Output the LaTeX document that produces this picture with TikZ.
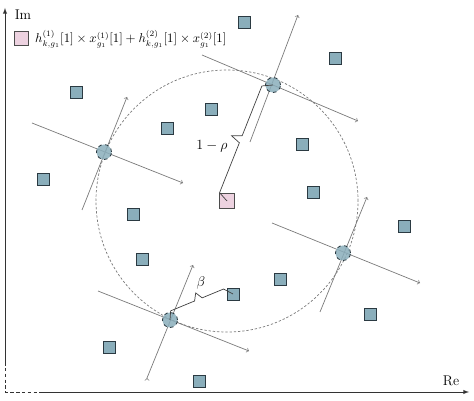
\documentclass[tikz,border=0pt]{standalone}
\usepackage{tikz}
\usetikzlibrary{arrows,calc}

\definecolor{usrblue}{HTML}{8AAEBB}
\definecolor{usrline}{HTML}{2B3A42}
\definecolor{ctrpink}{HTML}{EDD2E0}
\definecolor{beamgray}{HTML}{7A7A7A}

\begin{document}
\begin{tikzpicture}[x=0.03cm,y=-0.03cm,>=to,
  user/.style={rectangle,draw=usrline,fill=usrblue,line width=0.8pt,minimum size=0.36cm,inner sep=0pt},
  ctr/.style={rectangle,draw=black!70,fill=ctrpink,line width=0.7pt,minimum size=0.45cm,inner sep=0pt},
  relay/.style={circle,draw=usrline,dashed,fill=usrblue,fill opacity=0.85,line width=0.7pt,minimum size=0.45cm,inner sep=0pt},
  beam/.style={->,draw=beamgray,line width=0.6pt},
  gap/.style={draw=black!75,line width=0.6pt,line join=miter},
  lbl/.style={font=\fontsize{12}{14}\selectfont}]
\useasboundingbox (0,0) rectangle (474,401);

% axes
\coordinate (o)  at (5,392);
\coordinate (oy) at (5,362);
\coordinate (ox) at (40,392);
\coordinate (imtip) at (5,8);
\coordinate (retip) at (469,392);
\draw[densely dashed,black!80,line width=0.7pt] (oy) -- (o) -- (ox);
\draw[-latex,black!80,line width=0.7pt] (oy) -- (imtip);
\draw[-latex,black!80,line width=0.7pt] (ox) -- (retip);
\node[lbl] (im) at (23,15) {Im};
\node[lbl] (re) at (451,381) {Re};

% legend
\node[ctr,minimum size=0.42cm] (key) at (21,38) {};
\node[lbl,anchor=west,font=\fontsize{10.5}{13}\selectfont] (keytxt) at (31,39)
  {$h^{(1)}_{k,g_1}[1]\times x^{(1)}_{g_1}[1]+h^{(2)}_{k,g_1}[1]\times x^{(2)}_{g_1}[1]$};

% beam axes of the relays
\coordinate (a1) at (202,55);  \coordinate (b1) at (358,121);
\coordinate (c1) at (250,142); \coordinate (d1) at (298,15);
\coordinate (a2) at (32,123);  \coordinate (b2) at (183,183);
\coordinate (c2) at (82,210);  \coordinate (d2) at (127,97);
\coordinate (a3) at (272,223); \coordinate (b3) at (420,283);
\coordinate (c3) at (320,312); \coordinate (d3) at (367,197);
\coordinate (a4) at (98,291);  \coordinate (b4) at (249,351);
\coordinate (c4) at (147,378); \coordinate (d4) at (193,265);

\path[beam] (a1) edge (b1) (c1) edge (d1)
            (a2) edge (b2) (c2) edge (d2)
            (a3) edge (b3) (c3) edge (d3)
            (a4) edge (b4) (c4) edge (d4);

% coverage circle
\coordinate (mid) at (227,201);
\draw[beamgray,line width=0.6pt,dash pattern=on 2pt off 1.6pt] (mid) circle[radius=3.93cm];

\node[ctr] (ctr) at (mid) {};

\node[user] (u1)  at (244,22)  {};
\node[user] (u2)  at (335,58)  {};
\node[user] (u3)  at (76,92)   {};
\node[user] (u4)  at (211,109) {};
\node[user] (u5)  at (167,128) {};
\node[user] (u6)  at (302,144) {};
\node[user] (u7)  at (43,179)  {};
\node[user] (u8)  at (313,192) {};
\node[user] (u9)  at (133,214) {};
\node[user] (u10) at (404,226) {};
\node[user] (u11) at (142,259) {};
\node[user] (u12) at (280,279) {};
\node[user] (u13) at (233,294) {};
\node[user] (u14) at (370,314) {};
\node[user] (u15) at (109,347) {};
\node[user] (u16) at (199,381) {};

\node[relay] (r1) at (273,85)  {};
\node[relay] (r2) at (104,152) {};
\node[relay] (r3) at (343,253) {};
\node[relay] (r4) at (170,320) {};

% distance mark 1-rho
\draw[gap] (ctr.center) -- ($(ctr.center)!0.04!(r1.center)!8.5pt!90:(r1.center)$)
  -- ($(ctr.center)!0.47!(r1.center)!8.5pt!90:(r1.center)$)
  -- ($(ctr.center)!0.5!(r1.center)!17pt!90:(r1.center)$)
  -- ($(ctr.center)!0.53!(r1.center)!8.5pt!90:(r1.center)$)
  -- ($(ctr.center)!0.96!(r1.center)!8.5pt!90:(r1.center)$) -- (r1.center);
\node[lbl] (rho) at (212,146) {$1-\rho$};

% angle mark beta
\draw[gap] (r4.center) -- ($(r4.center)!0.06!(u13.center)!7pt!90:(u13.center)$)
  -- ($(r4.center)!0.44!(u13.center)!7pt!90:(u13.center)$)
  -- ($(r4.center)!0.5!(u13.center)!13pt!90:(u13.center)$)
  -- ($(r4.center)!0.56!(u13.center)!7pt!90:(u13.center)$)
  -- ($(r4.center)!0.9!(u13.center)!7pt!90:(u13.center)$) -- (u13.center);
\node[lbl] (beta) at (201,283) {$\beta$};

\end{tikzpicture}
\end{document}
